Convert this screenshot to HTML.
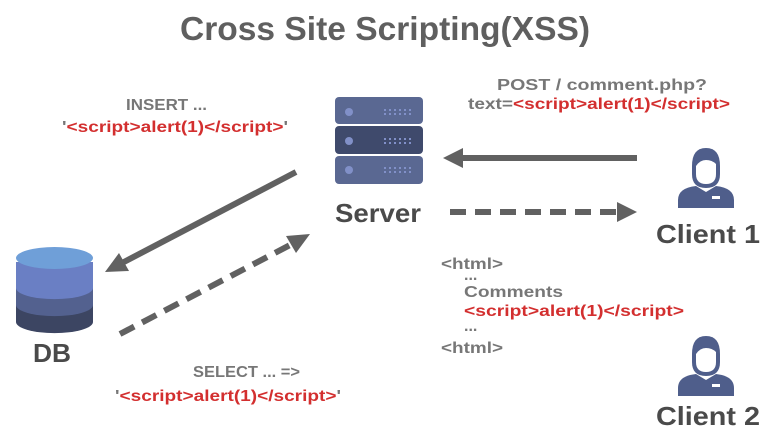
<!DOCTYPE html>
<html><head><meta charset="utf-8"><style>
html,body{margin:0;padding:0;background:#fff;}
svg{display:block;font-family:"Liberation Sans",sans-serif;font-weight:bold;}
.g{fill:#777;font-size:16px}
.r{fill:#d32f2f;font-size:16px}
.l{fill:#4a4a4a;font-size:26px}
</style></head><body>
<svg width="768" height="437" viewBox="0 0 768 437" xmlns="http://www.w3.org/2000/svg">
<defs>
<g id="user">
<path d="M-14,-14 Q-14,-32 0,-32 Q14,-32 14,-14 L14,-6 Q14,8 0,8 Q-14,8 -14,-6 Z" fill="#4f5e8b"/>
<path d="M-10,-14 Q-6,-20 0,-20 Q6,-20 10,-16 L10,-6 Q10,4 0,4 Q-10,4 -10,-6 Z" fill="#fff"/>
<path d="M-28,28 L-28,20 Q-28,8 -10,6 L0,12 L10,6 Q28,8 28,20 L28,28 Z" fill="#4f5e8b"/>
<rect x="6" y="16" width="8" height="3" fill="#fff"/>
</g>
</defs>
<text x="180" y="40" font-size="33" fill="#5f5f5f" textLength="410" lengthAdjust="spacingAndGlyphs">Cross Site Scripting(XSS)</text>

<!-- server -->
<rect x="335" y="97" width="88" height="27" rx="4" fill="#5a6892"/>
<rect x="335" y="126" width="88" height="28" rx="4" fill="#3f4a6c"/>
<rect x="335" y="156" width="88" height="28" rx="4" fill="#5a6892"/>
<circle cx="349" cy="112" r="4" fill="#8190c8"/>
<circle cx="349" cy="141" r="4" fill="#8190c8"/>
<circle cx="349" cy="170" r="4" fill="#8190c8"/>
<g stroke="#8190c8" stroke-width="2" stroke-dasharray="2 3">
<line x1="384" y1="110" x2="414" y2="110"/><line x1="384" y1="114" x2="414" y2="114"/>
<line x1="384" y1="139" x2="414" y2="139"/><line x1="384" y1="143" x2="414" y2="143"/>
<line x1="384" y1="168" x2="414" y2="168"/><line x1="384" y1="172" x2="414" y2="172"/>
</g>
<text class="l" x="335" y="222" textLength="86" lengthAdjust="spacingAndGlyphs">Server</text>

<!-- DB -->
<path d="M16,305 L16,322 A38,11 0 0 0 93,322 L93,305 Z" fill="#3c4562"/>
<path d="M16,288 L16,305 A38,11 0 0 0 93,305 L93,288 Z" fill="#53618f"/>
<path d="M16,262 L16,288 A38,11 0 0 0 93,288 L93,262 Z" fill="#6a7fc4"/>
<ellipse cx="54.5" cy="258" rx="38.5" ry="11" fill="#6f9fd8"/>
<text class="l" x="33" y="362" textLength="38" lengthAdjust="spacingAndGlyphs">DB</text>

<!-- arrows -->
<g stroke="#616161" stroke-width="6" fill="#616161">
<line x1="296" y1="172" x2="122" y2="263"/>
<line x1="120" y1="334" x2="292" y2="244" stroke-dasharray="16 9"/>
<line x1="637" y1="158" x2="462" y2="158"/>
<line x1="450" y1="212" x2="618" y2="212" stroke-dasharray="16 9"/>
</g>
<g fill="#616161">
<polygon points="105,272 119,253 129,271"/>
<polygon points="310,234 286,236 296,253"/>
<polygon points="443,158 463,148 463,168"/>
<polygon points="637,212 617,202 617,222"/>
</g>

<use href="#user" x="706" y="180"/>
<use href="#user" x="706" y="368"/>
<text class="l" x="656" y="243" textLength="104" lengthAdjust="spacingAndGlyphs">Client 1</text>
<text class="l" x="656" y="425" textLength="104" lengthAdjust="spacingAndGlyphs">Client 2</text>

<text class="g" x="126" y="110" textLength="81" lengthAdjust="spacingAndGlyphs">INSERT ...</text>
<text x="62" y="132" font-size="16" textLength="226" lengthAdjust="spacingAndGlyphs"><tspan fill="#777">'</tspan><tspan fill="#d32f2f">&lt;script&gt;alert(1)&lt;/script&gt;</tspan><tspan fill="#777">'</tspan></text>

<text class="g" x="497" y="90" textLength="210" lengthAdjust="spacingAndGlyphs">POST / comment.php?</text>
<text x="468" y="109" font-size="16" textLength="262" lengthAdjust="spacingAndGlyphs"><tspan fill="#777">text=</tspan><tspan fill="#d32f2f">&lt;script&gt;alert(1)&lt;/script&gt;</tspan></text>

<text class="g" x="441" y="269" textLength="62" lengthAdjust="spacingAndGlyphs">&lt;html&gt;</text>
<text class="g" x="464" y="280">...</text>
<text class="g" x="464" y="297" textLength="99" lengthAdjust="spacingAndGlyphs">Comments</text>
<text class="r" x="464" y="316" textLength="220" lengthAdjust="spacingAndGlyphs">&lt;script&gt;alert(1)&lt;/script&gt;</text>
<text class="g" x="464" y="331">...</text>
<text class="g" x="441" y="353" textLength="62" lengthAdjust="spacingAndGlyphs">&lt;html&gt;</text>

<text class="g" x="193" y="377" textLength="107" lengthAdjust="spacingAndGlyphs">SELECT ... =&gt;</text>
<text x="115" y="401" font-size="16" textLength="226" lengthAdjust="spacingAndGlyphs"><tspan fill="#777">'</tspan><tspan fill="#d32f2f">&lt;script&gt;alert(1)&lt;/script&gt;</tspan><tspan fill="#777">'</tspan></text>
</svg>
</body></html>
